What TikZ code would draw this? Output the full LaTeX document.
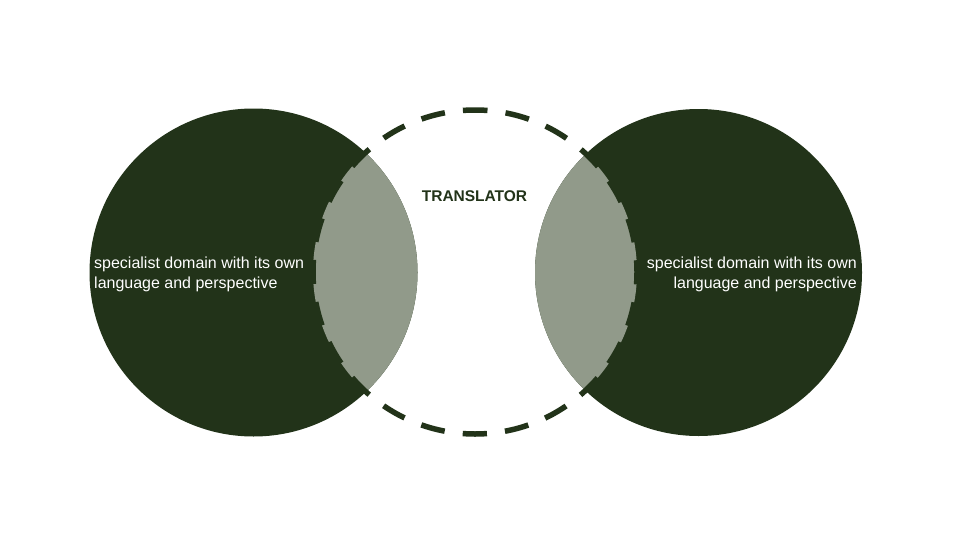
\documentclass[tikz,border=0pt]{standalone}
\usepackage{fontspec}
\setmainfont{Liberation Sans}
\definecolor{darkgreen}{HTML}{223319}
\definecolor{lensgray}{HTML}{919A8A}
\begin{document}
\begin{tikzpicture}[x=1pt,y=-1pt,
  domainfill/.style={fill=darkgreen,draw=none},
  lensfill/.style={fill=lensgray,draw=none},
  dashring/.style={draw=darkgreen,line width=5.5pt,dash pattern=on 24.2pt off 18.2pt,dash phase=12.1pt},
  bodytext/.style={text=white,font=\fontsize{16}{20}\selectfont,inner sep=0pt},
  titletext/.style={text=darkgreen,font=\fontsize{15.5}{18}\selectfont\bfseries,inner sep=0pt}]
\useasboundingbox[fill=white] (0,0) rectangle (960,535);
\coordinate (cl) at (253.5,272.5);
\coordinate (cm) at (475,272);
\coordinate (cr) at (698.5,272.5);
% domains
\fill[domainfill] (cl) circle[radius=164pt];
\fill[domainfill] (cr) circle[radius=163.5pt];
% lenses
\begin{scope}
  \clip (cl) circle[radius=164pt];
  \fill[lensfill] (cm) circle[radius=162pt];
\end{scope}
\begin{scope}
  \clip (cr) circle[radius=163.5pt];
  \fill[lensfill] (cm) circle[radius=162pt];
\end{scope}
% translator ring
\draw[dashring] (cm) ++(90:162pt) arc[start angle=90,end angle=450,radius=162pt];
% texts
\node[bodytext,anchor=base west,align=left] (lt) at (94,288) {specialist domain with its own\\language and perspective};
\node[bodytext,anchor=base east,align=right] (rt) at (857,288) {specialist domain with its own\\language and perspective};
\node[titletext,anchor=base] (tt) at (474.5,201) {TRANSLATOR};
\end{tikzpicture}
\end{document}
